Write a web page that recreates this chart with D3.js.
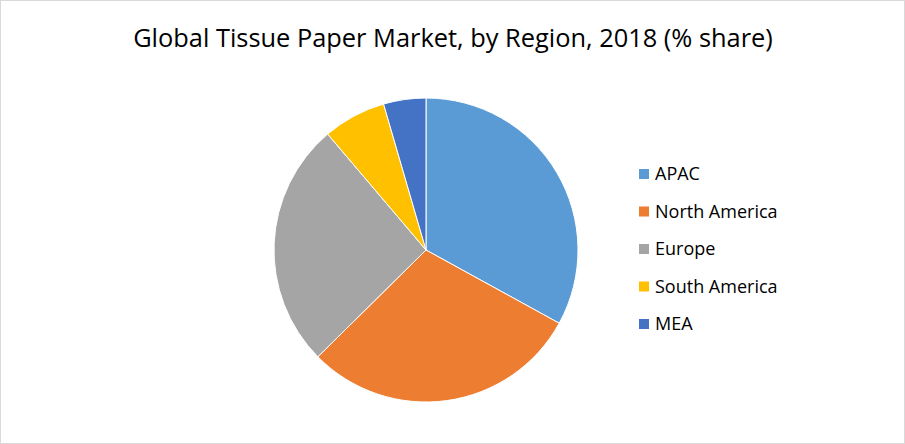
<!DOCTYPE html>
<html>
<head>
<meta charset="utf-8">
<script src="https://cdn.jsdelivr.net/npm/d3@7"></script>
<style>
  body { margin: 0; background: #fff; }
  svg { display: block; font-family: "Open Sans", "Noto Sans", sans-serif; }
</style>
</head>
<body>
<svg id="chart" width="905" height="444"></svg>
<script>
// data (% share)
const regions = ["APAC", "North America", "Europe", "South America", "MEA"];
const shares = [33.0, 29.6, 26.2, 6.7, 4.5];
const colors = ["#5B9BD5", "#ED7D31", "#A5A5A5", "#FFC000", "#4472C4"];

const svg = d3.select("#chart");
const width = 905, height = 444;

// chart border
svg.append("rect")
  .attr("x", 0.5).attr("y", 0.5)
  .attr("width", width - 1).attr("height", height - 1)
  .attr("fill", "#fff")
  .attr("stroke", "#d9d9d9");

svg.append("text")
  .attr("x", 453).attr("y", 47)
  .attr("text-anchor", "middle")
  .attr("font-size", 25.4)
  .attr("fill", "#000")
  .text("Global Tissue Paper Market, by Region, 2018 (% share)");

const cx = 426, cy = 250, radius = 152;

const pie = d3.pie().sort(null).value((d, i) => shares[i]);
const arc = d3.arc().innerRadius(0).outerRadius(radius);

const g = svg.append("g").attr("transform", `translate(${cx},${cy})`);

g.selectAll("path")
  .data(pie(regions))
  .join("path")
  .attr("d", arc)
  .attr("fill", (d, i) => colors[i])
  .attr("stroke", "#fff")
  .attr("stroke-width", 1);

// legend
const legendY = d3.scalePoint().domain(regions).range([174, 324]);
const legend = svg.append("g");
const items = legend.selectAll("g")
  .data(regions)
  .join("g")
  .attr("transform", d => `translate(639,${legendY(d)})`);

items.append("rect")
  .attr("x", 0).attr("y", -5)
  .attr("width", 10).attr("height", 10)
  .attr("fill", (d, i) => colors[i]);

items.append("text")
  .attr("x", 16).attr("y", 0)
  .attr("dy", "0.35em")
  .attr("font-size", 18)
  .attr("fill", "#000")
  .text(d => d);
</script>
</body>
</html>
